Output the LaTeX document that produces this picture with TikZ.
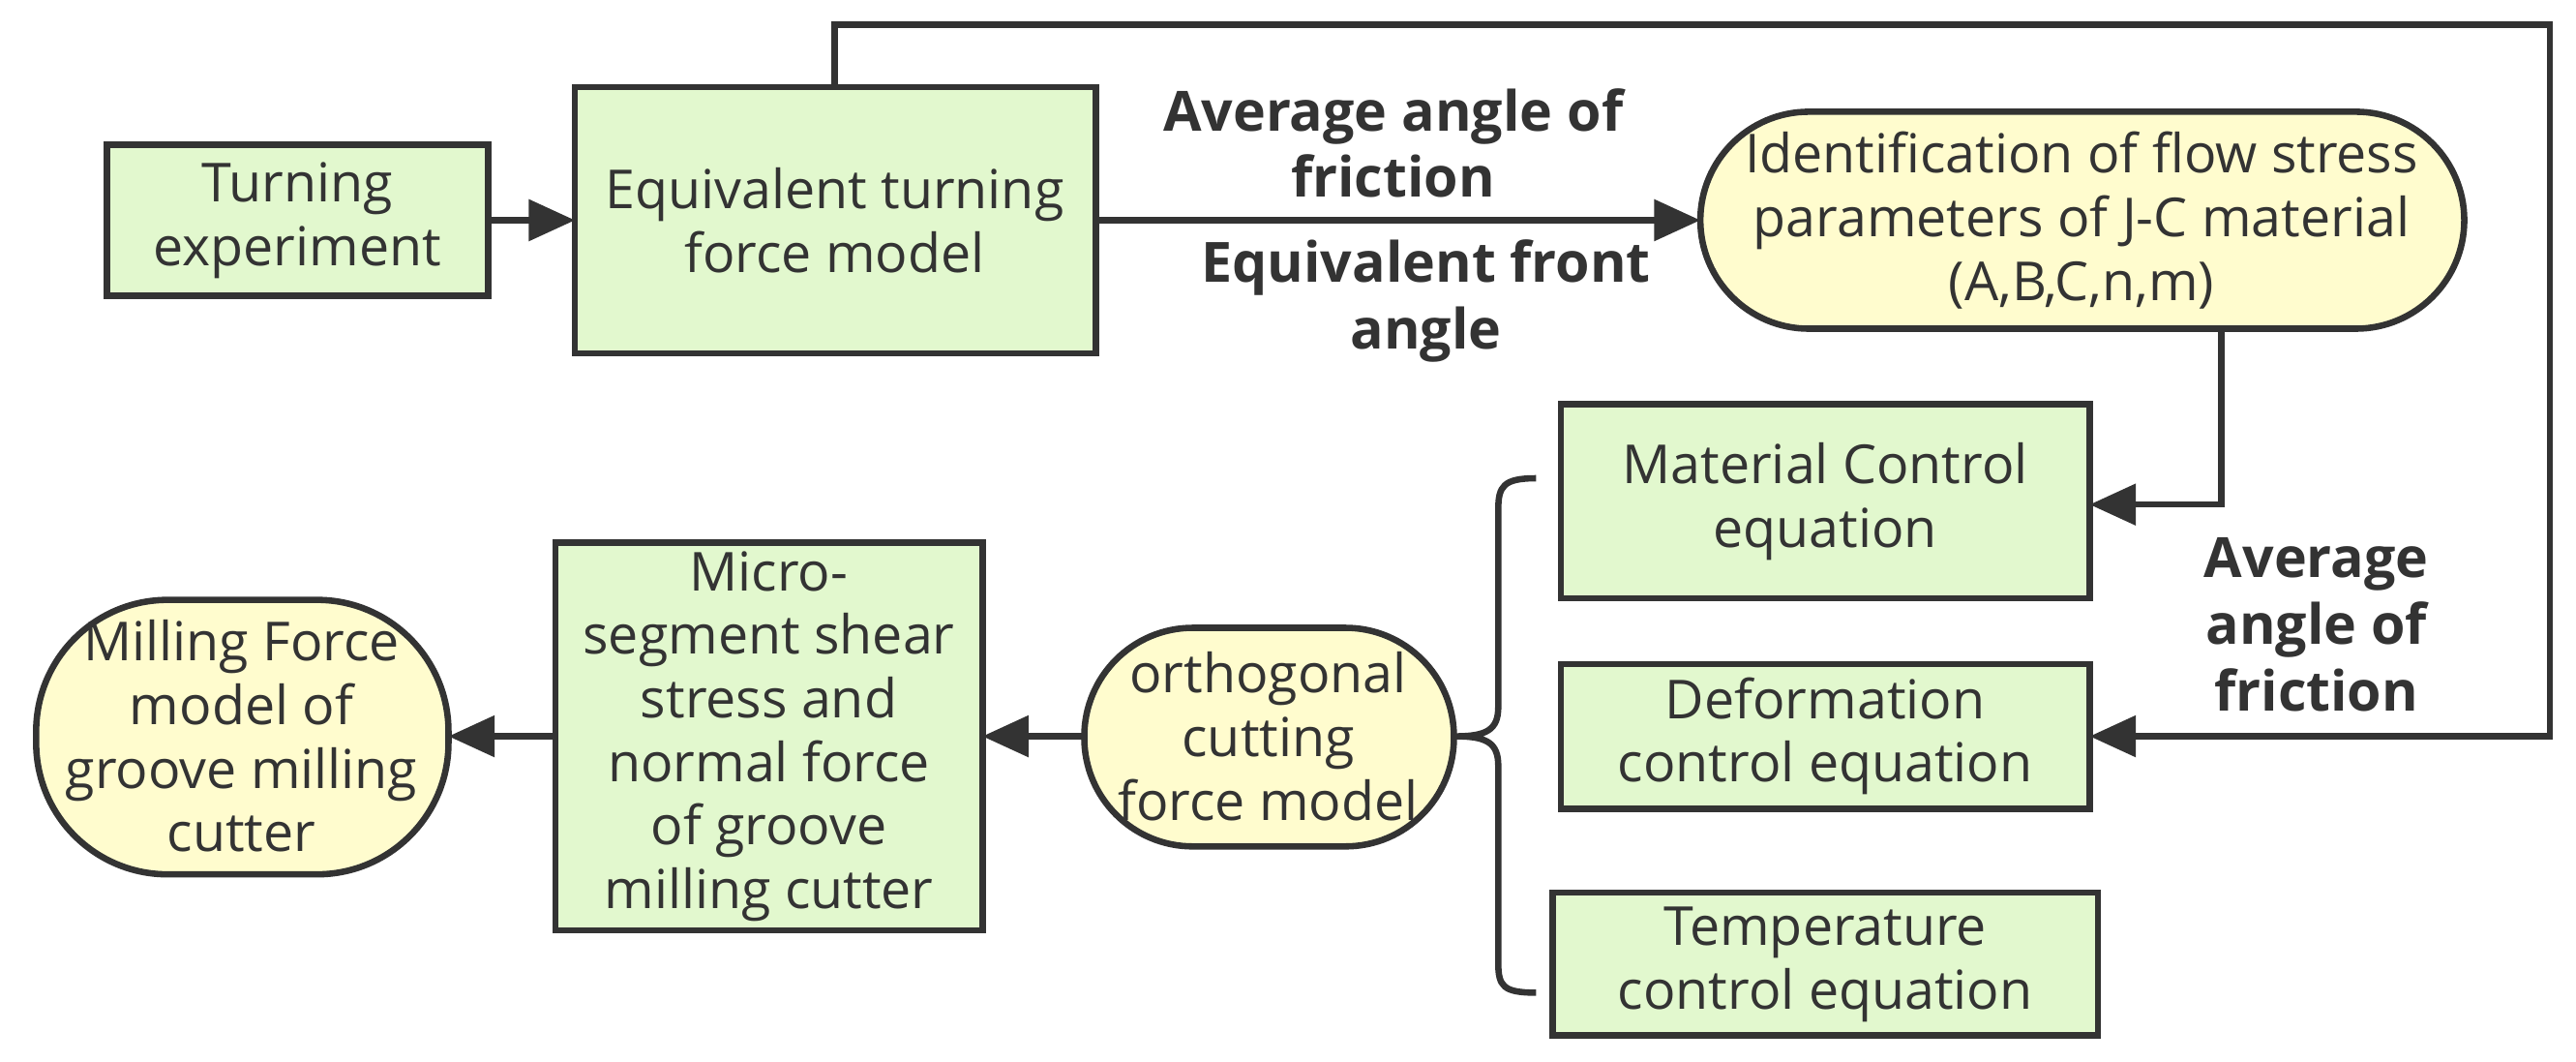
\documentclass[tikz,border=0pt]{standalone}
\usepackage{fontspec}
\setmainfont{Open Sans}
\usetikzlibrary{arrows.meta}
\definecolor{gfill}{HTML}{E2F8CE}
\definecolor{yfill}{HTML}{FFFCCE}
\definecolor{ln}{HTML}{333333}
\begin{document}
\begin{tikzpicture}[x=0.01cm,y=-0.01cm,
 every node/.style={font=\fontsize{9.3}{11}\selectfont, align=center, text=ln},
 gbox/.style={draw=ln, line width=1.1pt, fill=gfill, inner sep=0pt},
 ybox/.style={draw=ln, line width=1.1pt, fill=yfill, rounded corners=0.6cm, inner sep=0pt},
 arr/.style={draw=ln, line width=1.1pt, -{Triangle[length=8pt,width=7pt]}},
 lbl/.style={font=\bfseries\fontsize{9.6}{11.5}\selectfont}]
\useasboundingbox (0,0) rectangle (1568,646);
\path[gbox] (65,88) rectangle (297,180);
\node (te) at (181,134) {Turning\\experiment};
\coordinate (teR) at (297,134);
\path[gbox] (350,53) rectangle (667,215);
\node (eq) at (508,134) {Equivalent turning\\force model};
\coordinate (eqL) at (350,134); \coordinate (eqR) at (667,134); \coordinate (eqT) at (508,53);
\path[ybox, rounded corners=0.66cm] (1035,68) rectangle (1500,200);
\node (id) at (1267,134) {Identification of flow stress\\parameters of J-C material\\(A,B,C,n,m)};
\coordinate (idL) at (1035,134); \coordinate (idB) at (1352,200);
\path[gbox] (950,246) rectangle (1272,364);
\node (mc) at (1111,305) {Material Control\\equation};
\coordinate (mcR) at (1272,307);
\path[gbox] (950,404) rectangle (1272,492);
\node (dc) at (1111,448) {Deformation\\control equation};
\coordinate (dcR) at (1272,448);
\path[gbox] (945,543) rectangle (1277,630);
\node (tc) at (1111,587) {Temperature\\control equation};
\path[ybox, rounded corners=0.66cm] (660,382) rectangle (885,515);
\node (oc) at (772,448) {orthogonal\\cutting\\force model};
\coordinate (ocL) at (660,448);
\path[gbox] (338,330) rectangle (598,566);
\node (ms) at (468,448) {Micro-\\segment shear\\stress and\\normal force\\of groove\\milling cutter};
\coordinate (msL) at (338,448); \coordinate (msR) at (598,448);
\path[ybox, rounded corners=0.8cm] (22,365) rectangle (273,532);
\node (mf) at (147,448) {Milling Force\\model of\\groove milling\\cutter};
\coordinate (mfR) at (273,448);
\draw[arr] (teR) -- (eqL);
\draw[arr] (eqR) -- (idL);
\draw[arr] (idB) |- (mcR);
\coordinate (c1) at (1552,15);
\draw[arr] (eqT) |- (c1) |- (dcR);
\draw[arr] (ocL) -- (msR);
\draw[arr] (msL) -- (mfR);
\draw[ln, line width=1.1pt] (935,291) .. controls (915,291) and (912,296) .. (912,310) -- (912,430) .. controls (912,444) and (905,448) .. (886,448)
 .. controls (905,448) and (912,452) .. (912,466) -- (912,586) .. controls (912,600) and (915,604) .. (935,604);
\node[lbl] at (848,87) {Average angle of\\friction};
\node[lbl] at (868,183) {Equivalent front\\angle};
\node[lbl] at (1410,380) {Average\\angle of\\friction};
\end{tikzpicture}
\end{document}
